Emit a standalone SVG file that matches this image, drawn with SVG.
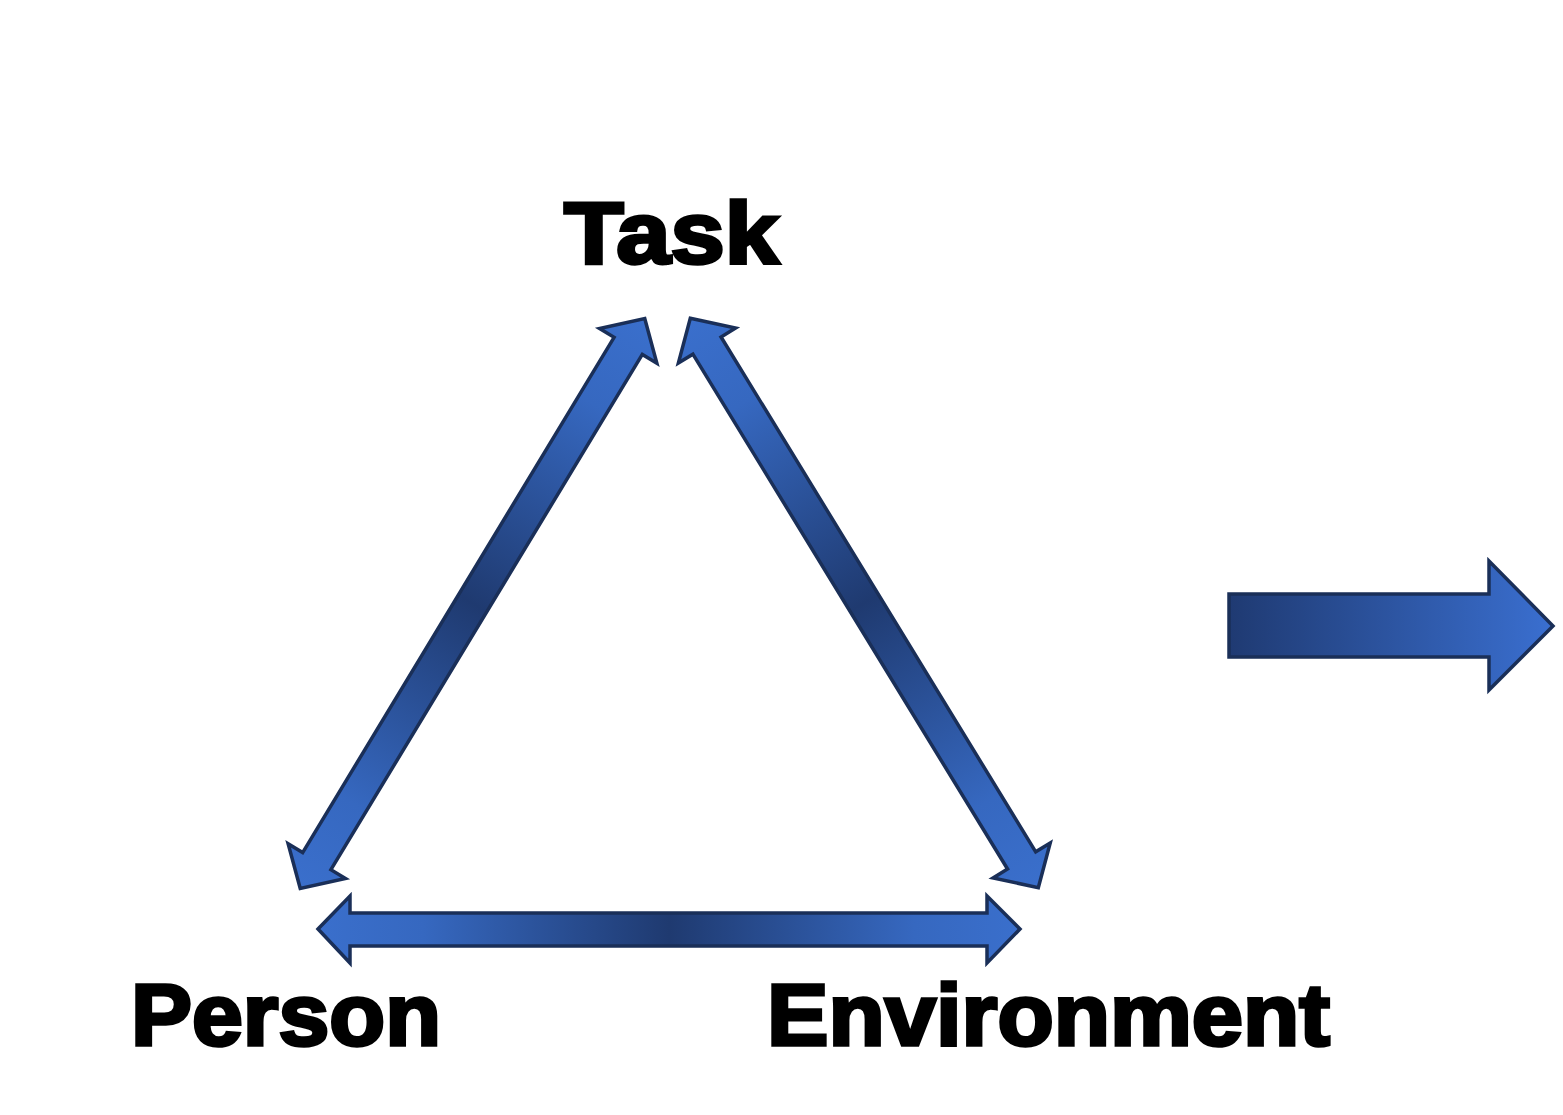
<svg xmlns="http://www.w3.org/2000/svg" width="1563" height="1115" viewBox="0 0 1563 1115">
<defs>
<linearGradient id="gDouble" x1="0" y1="0" x2="1" y2="0">
<stop offset="0" stop-color="#3a6fcc"/>
<stop offset="0.15" stop-color="#3668c0"/>
<stop offset="0.5" stop-color="#1f3a70"/>
<stop offset="0.85" stop-color="#3668c0"/>
<stop offset="1" stop-color="#3a6fcc"/>
</linearGradient>
<linearGradient id="gRight" x1="0" y1="0" x2="1" y2="0">
<stop offset="0" stop-color="#1f3a72"/>
<stop offset="1" stop-color="#3a6fd0"/>
</linearGradient>
<style>
.arr{stroke:#1a2f58;stroke-width:3.5;stroke-linejoin:miter}
.dbl{fill:url(#gDouble)}
.lbl{font-family:"Liberation Sans",Arial,sans-serif;font-weight:bold;font-size:87px;fill:#000;stroke:#000;stroke-width:3.5;stroke-linejoin:miter}
</style>
</defs>
<g id="connectors">
<path id="arrow-person-task" class="arr dbl" transform="translate(472.5,603.5) rotate(-58.85)" d="M-333,0 L-301,-33.5 L-301,-16.5 L301,-16.5 L301,-33.5 L333,0 L301,33.5 L301,16.5 L-301,16.5 L-301,33.5 Z"/>
<path id="arrow-task-environment" class="arr dbl" transform="translate(864.3,603) rotate(58.57)" d="M-333.7,0 L-301.7,-33.5 L-301.7,-16.5 L301.7,-16.5 L301.7,-33.5 L333.7,0 L301.7,33.5 L301.7,16.5 L-301.7,16.5 L-301.7,33.5 Z"/>
<path id="arrow-person-environment" class="arr dbl" d="M318,929 L350,896 L350,913 L987,913 L987,896 L1020,929 L987,963 L987,946 L350,946 L350,963 Z"/>
<path id="arrow-result" class="arr" fill="url(#gRight)" d="M1229,594 L1489,594 L1489,561 L1553,626 L1489,690 L1489,657 L1229,657 Z"/>
</g>
<g id="node-task">
<text class="lbl" x="564" y="263" textLength="215" lengthAdjust="spacingAndGlyphs">Task</text>
</g>
<g id="node-person">
<text class="lbl" x="131" y="1045" textLength="310" lengthAdjust="spacingAndGlyphs">Person</text>
</g>
<g id="node-environment">
<text class="lbl" x="767" y="1045" textLength="563" lengthAdjust="spacingAndGlyphs">Environment</text>
</g>
</svg>
